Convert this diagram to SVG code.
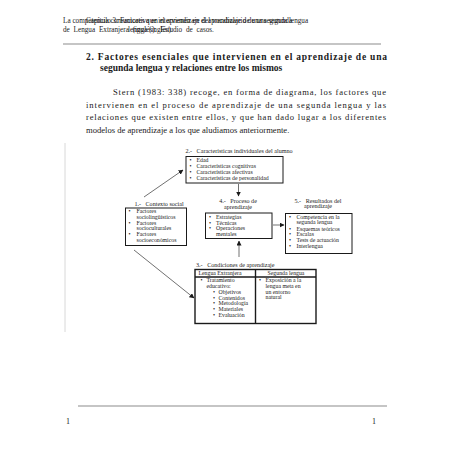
<svg xmlns="http://www.w3.org/2000/svg" width="452" height="452" viewBox="0 0 452 452">
<style>
.t{font-family:"Liberation Serif","Times New Roman",serif;fill:#1a1a1a}
.hd{font-size:7.2px}
.h2{font-size:9.5px;font-weight:bold}
.p{font-size:8.6px}
.d{font-size:5.8px}
.dt{font-size:6.1px}
.mid{text-anchor:middle}
.box{fill:none;stroke:#1a1a1a;stroke-width:1}
.tbl{fill:none;stroke:#1a1a1a;stroke-width:1.4}
.con{stroke:#333;stroke-width:0.7;fill:none;marker-end:url(#ah)}
.rule{stroke:#8c8c8c;stroke-width:1.2}
</style>
<defs>
<marker id="ah" viewBox="0 0 10 10" refX="9" refY="5" markerWidth="5" markerHeight="5" orient="auto" markerUnits="userSpaceOnUse">
<path d="M0,0 L10,5 L0,10 z" fill="#1a1a1a"/>
</marker>
</defs>
<rect width="452" height="452" fill="#fff"/>

<g id="page-header">
<text class="t hd" x="63" y="23">La competencia comunicativa en el aprendizaje del vocabulario de una segunda</text>
<text class="t hd" x="86" y="23">Capítulo 3: Factores que intervienen en el aprendizaje de una segunda lengua</text>
<text class="t hd" x="63" y="31.5" word-spacing="2">de Lengua Extranjera (inglés). Estudio de casos.</text>
<text class="t hd" x="128" y="31.5">lengua (inglés)</text>
<line class="rule" x1="63" y1="44" x2="381" y2="44"/>
</g>

<g id="section-heading">
<text class="t h2" x="86" y="60" textLength="301" lengthAdjust="spacing">2.  Factores esenciales que intervienen en el aprendizaje  de  una</text>
<text class="t h2" x="100" y="71">segunda lengua y relaciones entre los mismos</text>
</g>

<g id="paragraph">
<text class="t p" x="113" y="95" textLength="273" lengthAdjust="spacing">Stern (1983: 338) recoge, en forma de diagrama, los factores que</text>
<text class="t p" x="86" y="107.5" textLength="300" lengthAdjust="spacing">intervienen en el proceso de aprendizaje de una segunda lengua y las</text>
<text class="t p" x="86" y="120" textLength="300" lengthAdjust="spacing">relaciones que existen entre ellos, y que han dado lugar a los diferentes</text>
<text class="t p" x="86" y="132.5">modelos de aprendizaje a los que aludiamos anteriormente.</text>
</g>

<line x1="65" y1="143" x2="65" y2="332" stroke="#d8d8d8" stroke-width="1"/>

<g id="connectors">
<line class="con" x1="144" y1="197" x2="183" y2="170"/>
<line class="con" x1="238.5" y1="184" x2="238.5" y2="196"/>
<line class="con" x1="273" y1="225" x2="284" y2="225"/>
<line class="con" x1="239" y1="257" x2="239" y2="241"/>
<line class="con" x1="134" y1="250" x2="194" y2="298"/>
</g>

<g id="node-2">
<text class="t dt mid" x="239" y="153" xml:space="preserve">2.-   Características individuales del alumno</text>
<rect class="box" x="186" y="156.5" width="97" height="26.5"/>
<g class="t d">
<text x="189.5" y="161.5">•</text><text x="196.5" y="161.5">Edad</text>
<text x="189.5" y="167.5">•</text><text x="196.5" y="167.5">Características cognitivas</text>
<text x="189.5" y="173.5">•</text><text x="196.5" y="173.5">Características afectivas</text>
<text x="189.5" y="179.5">•</text><text x="196.5" y="179.5">Características de personalidad</text>
</g>
</g>

<g id="node-1">
<text class="t dt mid" x="159" y="205.5" xml:space="preserve">1.-   Contexto social</text>
<rect class="box" x="125.5" y="208" width="61" height="37.5"/>
<g class="t d">
<text x="128.5" y="213.3">•</text><text x="136.5" y="213.3">Factores</text>
<text x="136.5" y="218.8">sociolingüísticos</text>
<text x="128.5" y="224.6">•</text><text x="136.5" y="224.6">Factores</text>
<text x="136.5" y="230.2">socioculturales</text>
<text x="128.5" y="236">•</text><text x="136.5" y="236">Factores</text>
<text x="136.5" y="241.6">socioeconómicos</text>
</g>
</g>

<g id="node-4">
<text class="t dt mid" x="238" y="203" xml:space="preserve">4.-   Proceso de</text>
<text class="t dt mid" x="238" y="208.5">aprendizaje</text>
<rect class="box" x="205.5" y="213" width="66.5" height="25.5"/>
<g class="t d">
<text x="209" y="219">•</text><text x="216" y="219">Estrategias</text>
<text x="209" y="224.5">•</text><text x="216" y="224.5">Técnicas</text>
<text x="209" y="230">•</text><text x="216" y="230">Operaciones</text>
<text x="216" y="235.5">mentales</text>
</g>
</g>

<g id="node-5">
<text class="t dt mid" x="318" y="202.5" xml:space="preserve">5.-   Resultados del</text>
<text class="t dt mid" x="318" y="208">aprendizaje</text>
<rect class="box" x="285.5" y="213.5" width="66.5" height="40"/>
<g class="t d">
<text x="289" y="218.8">•</text><text x="296.5" y="218.8">Competencia en la</text>
<text x="296.5" y="224.2">segunda lengua</text>
<text x="289" y="230.6">•</text><text x="296.5" y="230.6">Esquemas teóricos</text>
<text x="289" y="236.3">•</text><text x="296.5" y="236.3">Escalas</text>
<text x="289" y="242">•</text><text x="296.5" y="242">Tests de actuación</text>
<text x="289" y="247.7">•</text><text x="296.5" y="247.7">Interlengua</text>
</g>
</g>

<g id="node-3">
<text class="t dt" x="196" y="266.5" xml:space="preserve">3.-   Condiciones de aprendizaje</text>
<rect class="tbl" x="195" y="269.5" width="121" height="54"/>
<line class="tbl" x1="195" y1="277" x2="316" y2="277"/>
<line class="tbl" x1="255.5" y1="269.5" x2="255.5" y2="323.5"/>
<g class="t d">
<text x="198.5" y="275">Lengua Extranjera</text>
<text x="286" y="275" text-anchor="middle">Segunda lengua</text>
<text x="200.5" y="282.3">•</text><text x="206.5" y="282.3">Tratamiento</text>
<text x="206.5" y="288">educativo:</text>
<text x="213" y="293.7">•</text><text x="218.5" y="293.7">Objetivos</text>
<text x="213" y="299.5">•</text><text x="218.5" y="299.5">Contenidos</text>
<text x="213" y="305.2">•</text><text x="218.5" y="305.2">Metodología</text>
<text x="213" y="310.8">•</text><text x="218.5" y="310.8">Materiales</text>
<text x="213" y="316.5">•</text><text x="218.5" y="316.5">Evaluación</text>
<text x="259" y="282.3">•</text><text x="265.5" y="282.3">Exposición a la</text>
<text x="265.5" y="288">lengua meta en</text>
<text x="265.5" y="293.7">un entorno</text>
<text x="265.5" y="299.3">natural</text>
</g>
</g>

<g id="page-footer">
<line class="rule" x1="78" y1="406" x2="387" y2="406"/>
<text class="t" x="68" y="424" font-size="8" text-anchor="middle">1</text>
<text class="t" x="374" y="424" font-size="8" text-anchor="middle">1</text>
</g>
</svg>
